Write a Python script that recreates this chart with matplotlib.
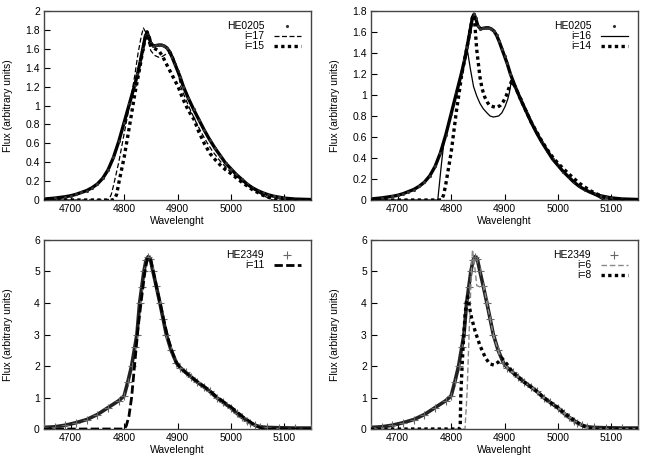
import matplotlib
matplotlib.use('Agg')
import matplotlib.pyplot as plt
from matplotlib.ticker import FuncFormatter

plt.rcParams['font.family'] = ['Liberation Sans', 'DejaVu Sans']
plt.rcParams['font.size'] = 7.5

# HE0205 observed profile
he0205_wl = [4650, 4670, 4690, 4700, 4710, 4720, 4730, 4740, 4750, 4760, 4770, 4780, 4790,
             4800, 4810, 4820, 4825, 4830, 4835, 4840, 4843, 4846, 4850, 4855, 4860, 4865,
             4870, 4875, 4880, 4885, 4890, 4895, 4900, 4905, 4911, 4920, 4930, 4940, 4950,
             4960, 4970, 4980, 4990, 5000, 5010, 5020, 5030, 5040, 5050, 5060, 5070, 5080,
             5090, 5100, 5120, 5150]
he0205_flux = [0.01, 0.02, 0.035, 0.045, 0.06, 0.08, 0.10, 0.13, 0.17, 0.23, 0.32, 0.45, 0.62,
               0.82, 1.02, 1.22, 1.33, 1.46, 1.60, 1.74, 1.77, 1.73, 1.66, 1.63, 1.635, 1.64,
               1.64, 1.63, 1.61, 1.57, 1.51, 1.44, 1.37, 1.30, 1.20, 1.08, 0.96, 0.85, 0.74,
               0.64, 0.55, 0.47, 0.39, 0.33, 0.27, 0.22, 0.17, 0.13, 0.10, 0.075, 0.055, 0.04,
               0.03, 0.02, 0.01, 0.005]

# model i=17 (panel a)
i17_wl = [4650, 4768, 4772, 4776, 4780, 4790, 4800, 4810, 4815, 4820, 4826, 4832, 4836, 4840,
          4845, 4850, 4857, 4865, 4872, 4880, 4888, 4893, 4900, 4906, 4915, 4925, 4935, 4945,
          4955, 4965, 4980, 5000, 5020, 5040, 5060, 5070, 5078, 5150]
i17_flux = [0, 0, 0.01, 0.06, 0.15, 0.40, 0.70, 1.00, 1.15, 1.32, 1.55, 1.73, 1.82, 1.78,
            1.68, 1.58, 1.53, 1.51, 1.52, 1.55, 1.56, 1.50, 1.38, 1.20, 1.07, 0.94, 0.82, 0.71,
            0.61, 0.52, 0.41, 0.29, 0.20, 0.12, 0.05, 0.02, 0, 0]

# model i=15 (panel a)
i15_wl = [4650, 4778, 4782, 4786, 4790, 4800, 4810, 4815, 4820, 4830, 4836, 4840, 4843, 4847,
          4852, 4858, 4865, 4872, 4880, 4890, 4901, 4910, 4920, 4931, 4940, 4950, 4961, 4970,
          4980, 4990, 5000, 5020, 5040, 5060, 5080, 5090, 5150]
i15_flux = [0, 0, 0.01, 0.06, 0.18, 0.45, 0.78, 0.95, 1.12, 1.42, 1.62, 1.72, 1.78, 1.72,
            1.62, 1.60, 1.58, 1.52, 1.43, 1.32, 1.20, 1.07, 0.95, 0.85, 0.72, 0.60, 0.49, 0.43,
            0.37, 0.32, 0.28, 0.19, 0.11, 0.05, 0.01, 0, 0]

# model i=16 (panel b)
i16_wl = [4650, 4775, 4778, 4782, 4787, 4790, 4800, 4810, 4820, 4825, 4831, 4836, 4842, 4848,
          4854, 4860, 4867, 4873, 4879, 4889, 4895, 4901, 4906, 4909, 4912, 4920, 4930, 4940,
          4950, 4960, 4970, 4980, 4990, 5000, 5020, 5040, 5060, 5075, 5085, 5150]
i16_flux = [0, 0, 0.15, 0.35, 0.57, 0.62, 0.82, 1.02, 1.22, 1.32, 1.41, 1.25, 1.08, 0.99,
            0.92, 0.87, 0.83, 0.80, 0.79, 0.80, 0.83, 0.89, 0.96, 1.02, 1.11, 1.08, 0.96, 0.85,
            0.74, 0.64, 0.55, 0.47, 0.39, 0.33, 0.22, 0.13, 0.07, 0.03, 0, 0]

# model i=14 (panel b)
i14_wl = [4650, 4782, 4786, 4790, 4795, 4800, 4805, 4810, 4815, 4820, 4825, 4830, 4835, 4840,
          4843, 4848, 4854, 4858, 4863, 4868, 4872, 4878, 4885, 4892, 4898, 4903, 4907, 4913,
          4920, 4930, 4940, 4950, 4960, 4970, 4980, 4990, 5000, 5020, 5040, 5060, 5080, 5095,
          5150]
i14_flux = [0, 0, 0.05, 0.15, 0.30, 0.45, 0.65, 0.85, 1.02, 1.20, 1.33, 1.46, 1.60, 1.74,
            1.76, 1.43, 1.17, 1.06, 0.98, 0.93, 0.90, 0.89, 0.88, 0.90, 0.94, 0.99, 1.05, 1.13,
            1.08, 0.96, 0.85, 0.74, 0.65, 0.56, 0.48, 0.41, 0.35, 0.25, 0.16, 0.09, 0.04, 0, 0]

# HE2349 observed profile
he2349_wl = [4650, 4670, 4690, 4710, 4730, 4750, 4770, 4790, 4800, 4807, 4814, 4820, 4824,
             4829, 4833, 4837, 4841, 4845, 4849, 4854, 4860, 4867, 4873, 4879, 4888, 4898,
             4905, 4915, 4925, 4936, 4950, 4960, 4973, 4985, 5000, 5011, 5020, 5030, 5036,
             5045, 5055, 5067, 5090, 5120, 5150]
he2349_flux = [0.05, 0.07, 0.12, 0.20, 0.30, 0.46, 0.68, 0.90, 1.05, 1.50, 2.00, 2.60, 3.00,
               4.00, 4.50, 5.00, 5.35, 5.47, 5.40, 5.00, 4.55, 4.00, 3.50, 3.00, 2.50, 2.10,
               1.95, 1.80, 1.66, 1.50, 1.33, 1.20, 1.00, 0.85, 0.67, 0.50, 0.38, 0.27, 0.20,
               0.12, 0.07, 0.05, 0.04, 0.03, 0.03]

# model i=11 (panel c)
i11_wl = [4650, 4800, 4804, 4809, 4814, 4820, 4826, 4833, 4839, 4844, 4850, 4856, 4862, 4868,
          4875, 4882, 4890, 4898, 4905, 4915, 4925, 4936, 4950, 4960, 4973, 4985, 5000, 5011,
          5020, 5030, 5040, 5050, 5058, 5062, 5150]
i11_flux = [0, 0, 0.10, 0.40, 1.00, 2.10, 3.20, 4.20, 5.00, 5.45, 5.35, 4.90, 4.40, 3.95,
            3.40, 2.90, 2.45, 2.10, 1.95, 1.80, 1.66, 1.52, 1.35, 1.22, 1.03, 0.88, 0.70, 0.55,
            0.42, 0.30, 0.18, 0.08, 0.02, 0, 0]

# model i=6 (panel d)
i6_wl = [4650, 4826, 4830, 4834, 4838, 4840, 4844, 4848, 4856, 4861, 4867, 4873, 4879, 4888,
         4898, 4905, 4915, 4925, 4936, 4950, 4960, 4973, 4985, 5000, 5011, 5020, 5030, 5040,
         5050, 5060, 5150]
i6_flux = [0, 0, 1.20, 3.20, 5.00, 5.70, 5.20, 4.55, 4.50, 4.55, 4.00, 3.50, 3.00, 2.50,
           2.10, 1.95, 1.80, 1.66, 1.50, 1.33, 1.20, 1.00, 0.85, 0.68, 0.52, 0.40, 0.28, 0.17,
           0.08, 0, 0]

# model i=8 (panel d)
i8_wl = [4650, 4815, 4817, 4818, 4820, 4823, 4826, 4829, 4831, 4834, 4838, 4845, 4854, 4864,
         4872, 4880, 4888, 4895, 4900, 4905, 4915, 4925, 4936, 4950, 4960, 4973, 4985, 5000,
         5011, 5020, 5030, 5040, 5050, 5065, 5150]
i8_flux = [0, 0, 0.05, 1.00, 1.80, 2.80, 3.60, 4.10, 4.20, 3.90, 3.55, 3.10, 2.65, 2.27,
           2.07, 2.03, 2.12, 2.25, 2.15, 2.05, 1.80, 1.66, 1.50, 1.33, 1.20, 1.00, 0.85, 0.68,
           0.52, 0.40, 0.28, 0.17, 0.08, 0, 0]

xticks = [4700, 4800, 4900, 5000, 5100]
yticks_a = [0, 0.2, 0.4, 0.6, 0.8, 1, 1.2, 1.4, 1.6, 1.8, 2]
yticks_b = [0, 0.2, 0.4, 0.6, 0.8, 1, 1.2, 1.4, 1.6, 1.8]
yticks_cd = [0, 1, 2, 3, 4, 5, 6]

fig = plt.figure(figsize=(6.54, 4.58), dpi=100)
w, h = 0.4083, 0.4127
ax_a = fig.add_axes([0.0673, 0.5633, w, h])
ax_b = fig.add_axes([0.5673, 0.5633, w, h])
ax_c = fig.add_axes([0.0673, 0.0633, w, h])
ax_d = fig.add_axes([0.5673, 0.0633, w, h])

fmt = FuncFormatter(lambda v, p: '%g' % v)


def style(ax, yticks):
    ax.set_xlim(4650, 5150)
    ax.set_ylim(yticks[0], yticks[-1])
    ax.set_xticks(xticks)
    ax.set_yticks(yticks)
    ax.yaxis.set_major_formatter(fmt)
    ax.tick_params(direction='in', length=4, width=0.8, top=False, right=False, pad=3)
    for s in ax.spines.values():
        s.set_color('#444444')
        s.set_linewidth(1.0)
    ax.set_xlabel('Wavelenght', labelpad=1)
    ax.set_ylabel('Flux (arbitrary units)')
    ax.yaxis.set_label_coords(-0.115, 0.5)


def observed_0205(ax):
    ax.plot(he0205_wl, he0205_flux, color='black', lw=2.4, zorder=2)
    ax.plot(he0205_wl, he0205_flux, ls='none', marker='.', ms=2.5, color='#333333',
            label='HE0205', zorder=3)


def observed_2349(ax):
    ax.plot(he2349_wl, he2349_flux, color='#222222', lw=2.6, zorder=2)
    ax.plot(he2349_wl, he2349_flux, ls='none', marker='+', ms=6, mew=0.8, color='#666666',
            label='HE2349', zorder=3)


def legend(ax):
    ax.legend(loc='upper right', frameon=False, markerfirst=False, handlelength=2.6,
              handletextpad=0.9, labelspacing=0.0, borderaxespad=0.6, fontsize=7.5)


# panel a
observed_0205(ax_a)
ax_a.plot(i17_wl, i17_flux, color='black', lw=0.9, dashes=(4, 2), label='i=17', zorder=4)
ax_a.plot(i15_wl, i15_flux, color='black', lw=2.4, ls=(0, (1, 1)), label='i=15', zorder=4)
style(ax_a, yticks_a)
legend(ax_a)

# panel b
observed_0205(ax_b)
ax_b.plot(i16_wl, i16_flux, color='black', lw=0.9, label='i=16', zorder=4)
ax_b.plot(i14_wl, i14_flux, color='black', lw=2.4, ls=(0, (1, 1)), label='i=14', zorder=4)
style(ax_b, yticks_b)
legend(ax_b)

# panel c
observed_2349(ax_c)
ax_c.plot(i11_wl, i11_flux, color='black', lw=2.0, dashes=(3, 1.2), label='i=11', zorder=4)
style(ax_c, yticks_cd)
legend(ax_c)

# panel d
observed_2349(ax_d)
ax_d.plot(i6_wl, i6_flux, color='#888888', lw=1.0, dashes=(4, 2), label='i=6', zorder=4)
ax_d.plot(i8_wl, i8_flux, color='black', lw=2.4, ls=(0, (1, 1)), label='i=8', zorder=4)
style(ax_d, yticks_cd)
legend(ax_d)

fig.savefig('out.png', dpi=100)
